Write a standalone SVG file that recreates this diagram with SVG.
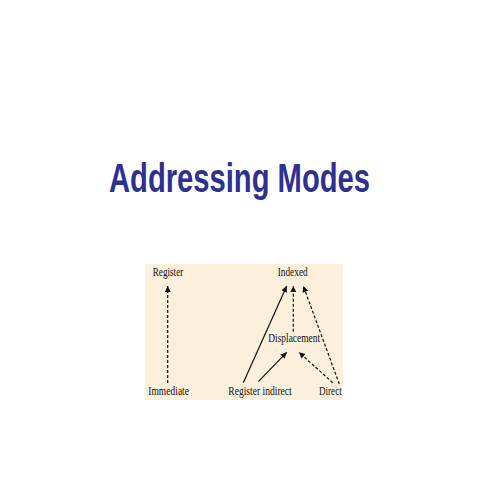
<svg xmlns="http://www.w3.org/2000/svg" width="480" height="480" viewBox="0 0 480 480">
<defs>
<style>
.title{font-family:"Liberation Sans",Arial,sans-serif;font-weight:bold;font-size:40px;fill:#2e3192}
.lbl{font-family:"Liberation Serif","Times New Roman",serif;font-size:11.5px;fill:#111}
.c{stroke:#111;stroke-width:1.2;fill:none}
.d{stroke-dasharray:3,2}
</style>
<marker id="ah" viewBox="0 0 10 10" refX="10" refY="5" markerWidth="8" markerHeight="6" markerUnits="userSpaceOnUse" orient="auto">
<path d="M0,0 L10,5 L0,10 z" fill="#111"/>
</marker>
</defs>
<rect width="480" height="480" fill="#fff"/>
<text class="title" x="109" y="191.5" textLength="261" lengthAdjust="spacingAndGlyphs">Addressing Modes</text>
<rect x="145" y="264" width="198" height="136" fill="#fcf0dc"/>
<g id="register"><text class="lbl" x="152.7" y="276" textLength="30.6" lengthAdjust="spacingAndGlyphs">Register</text></g>
<g id="indexed"><text class="lbl" x="277.7" y="276" textLength="30" lengthAdjust="spacingAndGlyphs">Indexed</text></g>
<g id="displacement"><text class="lbl" x="268.3" y="342" textLength="51.7" lengthAdjust="spacingAndGlyphs">Displacement</text></g>
<g id="immediate"><text class="lbl" x="148.3" y="395" textLength="40.7" lengthAdjust="spacingAndGlyphs">Immediate</text></g>
<g id="register-indirect"><text class="lbl" x="228.3" y="395" textLength="63.4" lengthAdjust="spacingAndGlyphs">Register indirect</text></g>
<g id="direct"><text class="lbl" x="319" y="395" textLength="22.7" lengthAdjust="spacingAndGlyphs">Direct</text></g>
<g id="connectors">
<line class="c d" x1="167.7" y1="383" x2="167.7" y2="286" marker-end="url(#ah)"/>
<line class="c" x1="243.3" y1="382.7" x2="286.7" y2="286" marker-end="url(#ah)"/>
<line class="c" x1="258.3" y1="381.7" x2="286.7" y2="352.3" marker-end="url(#ah)"/>
<line class="c d" x1="293.3" y1="331.7" x2="293.3" y2="286" marker-end="url(#ah)"/>
<line class="c d" x1="332.7" y1="382.7" x2="299" y2="352.3" marker-end="url(#ah)"/>
<line class="c d" x1="339.3" y1="384" x2="303.3" y2="286" marker-end="url(#ah)"/>
</g>
</svg>
